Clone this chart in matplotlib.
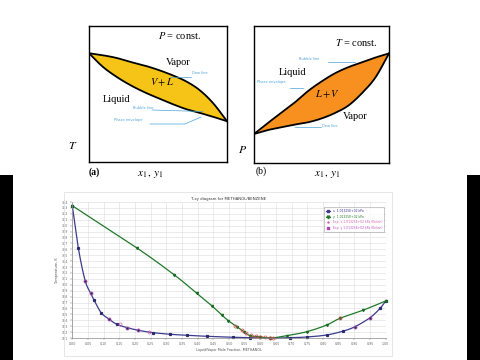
import numpy as np
import matplotlib
matplotlib.use("Agg")
import matplotlib.pyplot as plt
from matplotlib.patches import Rectangle
from matplotlib.lines import Line2D

plt.rcParams["mathtext.fontset"] = "stix"

# ---------------- data ----------------
# Panel (a): T-xy at constant P (schematic)
a_x = [0.0, 0.1, 0.2, 0.3, 0.4, 0.5, 0.6, 0.7, 0.8, 0.9, 1.0]
a_dew = [0.80, 0.785, 0.765, 0.736, 0.71, 0.678, 0.64, 0.595, 0.53, 0.432, 0.30]
a_bubble = [0.80, 0.70, 0.626, 0.565, 0.514, 0.47, 0.428, 0.39, 0.362, 0.332, 0.30]

# Panel (b): P-xy at constant T (schematic)
b_x = [0.0, 0.1, 0.2, 0.3, 0.4, 0.5, 0.6, 0.7, 0.8, 0.9, 1.0]
b_bubble = [0.212, 0.29, 0.365, 0.44, 0.525, 0.595, 0.655, 0.70, 0.735, 0.77, 0.80]
b_dew = [0.212, 0.24, 0.26, 0.28, 0.297, 0.325, 0.365, 0.42, 0.51, 0.625, 0.80]

# Bottom: T-xy diagram for METHANOL/BENZENE (K)
liq_x = [0.0, 0.019, 0.041, 0.059, 0.069, 0.092, 0.118, 0.142, 0.176, 0.211, 0.258,
         0.312, 0.365, 0.429, 0.514, 0.567, 0.631, 0.695, 0.748, 0.812, 0.865, 0.902,
         0.950, 0.982, 1.0]
liq_T = [353.37, 346.27, 340.69, 338.56, 337.43, 335.28, 334.16, 333.32, 332.74, 332.30,
         331.90, 331.63, 331.46, 331.29, 331.12, 331.05, 330.98, 331.05, 331.17, 331.51,
         332.18, 332.91, 334.43, 336.02, 337.26]
vap_y = [0.0, 0.205, 0.326, 0.397, 0.445, 0.477, 0.498, 0.525, 0.548, 0.567, 0.599,
         0.631, 0.684, 0.748, 0.812, 0.854, 0.929, 1.0]
vap_T = [353.37, 346.27, 341.65, 338.56, 336.46, 334.89, 333.93, 332.91, 332.06, 331.39,
         331.22, 330.98, 331.39, 332.06, 333.20, 334.33, 335.73, 337.26]
exp_x = [0.041, 0.059, 0.118, 0.152, 0.176, 0.211, 0.245, 0.902, 0.950]
exp_xT = [340.69, 338.56, 334.16, 333.4, 332.74, 332.30, 332.0, 332.91, 334.43]
exp_y = [0.52, 0.54, 0.555, 0.57, 0.585, 0.60, 0.615, 0.63, 0.64, 0.854]
exp_yT = [333.0, 332.3, 331.9, 331.5, 331.35, 331.2, 331.1, 331.05, 331.0, 334.33]

x_ticks = [i * 0.05 for i in range(21)]
y_ticks = list(range(331, 355))
legend_labels = ["x  1.01325E+02 kPa", "y  1.01325E+02 kPa",
                 "Exp. x 1.01325E+02 kPa (Kelvin)", "Exp. y 1.01325E+02 kPa (Kelvin)"]

# ---------------- helpers ----------------
W, H = 480, 360


def frac(x, y):
    return x / W, 1 - y / H


def box(l, t, r, b):
    return [l / W, 1 - b / H, (r - l) / W, (b - t) / H]


def smooth(xs, ys, n=20):
    xs = np.asarray(xs, float); ys = np.asarray(ys, float)
    P = np.column_stack([xs, ys])
    P = np.vstack([2 * P[0] - P[1], P, 2 * P[-1] - P[-2]])
    out = []
    for i in range(1, len(P) - 2):
        p0, p1, p2, p3 = P[i - 1], P[i], P[i + 1], P[i + 2]
        for t in np.linspace(0, 1, n, endpoint=False):
            t2, t3 = t * t, t * t * t
            out.append(0.5 * ((2 * p1) + (-p0 + p2) * t + (2 * p0 - 5 * p1 + 4 * p2 - p3) * t2
                              + (-p0 + 3 * p1 - 3 * p2 + p3) * t3))
    out.append(P[-2])
    out = np.array(out)
    return out[:, 0], out[:, 1]


fig = plt.figure(figsize=(4.8, 3.6), dpi=100)
fig.patch.set_facecolor("white")

serif = ["Liberation Serif", "DejaVu Serif"]
cyan = "#4aa3d8"

# black side bars of the bottom half
fig.patches.append(Rectangle(frac(0, 360), 13 / W, 185 / H, transform=fig.transFigure,
                             facecolor="black", edgecolor="none", zorder=0))
fig.patches.append(Rectangle(frac(467, 360), 13 / W, 185 / H, transform=fig.transFigure,
                             facecolor="black", edgecolor="none", zorder=0))
# light frame of the screenshot
fig.patches.append(Rectangle(frac(64, 356), (392 - 64) / W, (356 - 192) / H,
                             transform=fig.transFigure, facecolor="none",
                             edgecolor="#e2e2e2", lw=0.6, zorder=0))


def schematic(ax, xs, up, lo, color):
    ux, uy = smooth(xs, up)
    lx, ly = smooth(xs, lo)
    ax.fill(np.concatenate([ux, lx[::-1]]), np.concatenate([uy, ly[::-1]]),
            color=color, lw=0)
    ax.plot(ux, uy, color="black", lw=1.3)
    ax.plot(lx, ly, color="black", lw=1.3)
    ax.set_xlim(0, 1); ax.set_ylim(0, 1)
    ax.set_xticks([]); ax.set_yticks([])
    for s in ax.spines.values():
        s.set_linewidth(1.0)


# ---------------- panel (a) ----------------
axa = fig.add_axes(box(89, 26, 227, 162))
schematic(axa, a_x, a_dew, a_bubble, "#f6c416")
axa.text(0.50, 0.93, "$P$ = const.", transform=axa.transAxes, family=serif, fontsize=7.5,
         ha="left", va="center")
axa.text(0.56, 0.73, "Vapor", transform=axa.transAxes, family=serif, fontsize=7.5,
         ha="left", va="center")
axa.text(0.44, 0.59, "$V + L$", transform=axa.transAxes, family=serif, fontsize=7.5,
         ha="left", va="center")
axa.text(0.10, 0.46, "Liquid", transform=axa.transAxes, family=serif, fontsize=7.5,
         ha="left", va="center")
fig.text(*frac(192, 73), "Dew line", color=cyan, fontsize=2.6, va="center")
fig.add_artist(Line2D([170 / W, 191 / W], [1 - 77 / H, 1 - 77 / H], color=cyan, lw=0.5))
fig.text(*frac(133, 107.5), "Bubble line", color=cyan, fontsize=2.6, va="center")
fig.add_artist(Line2D([152 / W, 203 / W], [1 - 110 / H, 1 - 111.5 / H], color=cyan, lw=0.5))
fig.text(*frac(114, 120), "Phase envelope", color=cyan, fontsize=2.6, va="center")
fig.add_artist(Line2D([150 / W, 185 / W, 201 / W], [1 - 124 / H, 1 - 124 / H, 1 - 117 / H],
                      color=cyan, lw=0.5))
fig.text(*frac(89, 172), "(a)", family=serif, fontsize=7, fontweight="bold", va="center")
fig.text(*frac(150, 174), "$x_1\\,,\\,y_1$", family=serif, fontsize=8, va="center", ha="center")
fig.text(*frac(73, 146), "$T$", family=serif, fontsize=8.5, va="center", ha="center")

# ---------------- panel (b) ----------------
axb = fig.add_axes(box(254, 26, 389, 163))
schematic(axb, b_x, b_bubble, b_dew, "#f7901e")
axb.text(0.60, 0.88, "$T$ = const.", transform=axb.transAxes, family=serif, fontsize=7.5,
         ha="left", va="center")
axb.text(0.18, 0.66, "Liquid", transform=axb.transAxes, family=serif, fontsize=7.5,
         ha="left", va="center")
axb.text(0.45, 0.50, "$L + V$", transform=axb.transAxes, family=serif, fontsize=7.5,
         ha="left", va="center")
axb.text(0.66, 0.34, "Vapor", transform=axb.transAxes, family=serif, fontsize=7.5,
         ha="left", va="center")
fig.text(*frac(299, 59), "Bubble line", color=cyan, fontsize=2.6, va="center")
fig.add_artist(Line2D([328 / W, 355 / W], [1 - 61.7 / H, 1 - 61.7 / H], color=cyan, lw=0.5))
fig.text(*frac(257, 82), "Phase envelope", color=cyan, fontsize=2.6, va="center")
fig.add_artist(Line2D([290 / W, 303 / W], [1 - 88 / H, 1 - 88 / H], color=cyan, lw=0.5))
fig.text(*frac(322, 126), "Dew line", color=cyan, fontsize=2.6, va="center")
fig.add_artist(Line2D([295 / W, 321 / W], [1 - 127 / H, 1 - 127 / H], color=cyan, lw=0.5))
fig.text(*frac(256, 171), "(b)", family=serif, fontsize=7, va="center")
fig.text(*frac(327, 174), "$x_1\\,,\\,y_1$", family=serif, fontsize=8, va="center", ha="center")
fig.text(*frac(243, 150), "$P$", family=serif, fontsize=8.5, va="center", ha="center")

# ---------------- bottom chart ----------------
ax = fig.add_axes(box(72.3, 202, 385.7, 338))
ax.set_xlim(0, 1)
ax.set_ylim(331, 354)
ax.set_xticks(x_ticks)
ax.set_yticks(y_ticks)
ax.set_xticklabels([f"{v:.2f}" for v in x_ticks])
ax.set_yticklabels([f"{v:d}" for v in y_ticks])
ax.tick_params(labelsize=2.3, length=1.2, width=0.3, colors="#666666", pad=1.5)
ax.grid(True, color="#dcdcdc", lw=0.4)
ax.set_axisbelow(True)
for s in ["top", "right"]:
    ax.spines[s].set_visible(False)
for s in ["left", "bottom"]:
    ax.spines[s].set_color("#888888")
    ax.spines[s].set_linewidth(0.5)

lx, lT = smooth(liq_x, liq_T, n=10)
vx, vT = smooth(vap_y, vap_T, n=10)
ax.plot(lx, lT, color="#3b3b8f", lw=0.9, clip_on=False)
ax.plot(liq_x, liq_T, ls="none", marker="s", ms=1.3, color="#2a2a70", clip_on=False)
ax.plot(vx, vT, color="#1f7a2a", lw=0.9, clip_on=False)
ax.plot(vap_y, vap_T, ls="none", marker="v", ms=1.5, color="#1a6a22", clip_on=False)
ax.plot(exp_x, exp_xT, ls="none", marker="o", ms=2.2, mfc="none", mec="#d060b0", mew=0.5,
        clip_on=False)
ax.plot(exp_y, exp_yT, ls="none", marker="o", ms=2.2, mfc="none", mec="#e04848", mew=0.5,
        clip_on=False)

handles = [Line2D([], [], color="#3b3b8f", marker="s", ms=2, lw=0.8),
           Line2D([], [], color="#1f7a2a", marker="v", ms=2, lw=0.8),
           Line2D([], [], color="#d060b0", marker="+", ms=2, lw=0),
           Line2D([], [], color="#b040b0", marker="s", ms=2, lw=0)]
leg = ax.legend(handles, legend_labels, loc="upper right", fontsize=2.2, frameon=True,
                fancybox=False, edgecolor="#888888", borderpad=0.6, handlelength=1.5,
                labelspacing=0.6, bbox_to_anchor=(1.0, 0.975))
leg.get_frame().set_linewidth(0.4)
for t, c in zip(leg.get_texts(), ["#333399", "#1f7a2a", "#d060b0", "#c050c0"]):
    t.set_color(c)

ax.set_title("T-xy diagram for METHANOL/BENZENE", fontsize=2.8, pad=1.5, color="#333333")
ax.set_ylabel("Temperature, K", fontsize=2.4, color="#555555", labelpad=2)
ax.set_xlabel("Liquid/Vapor Mole Fraction, METHANOL", fontsize=2.4, color="#555555",
              labelpad=1.5)

fig.savefig("out.png", dpi=100, facecolor="white")
